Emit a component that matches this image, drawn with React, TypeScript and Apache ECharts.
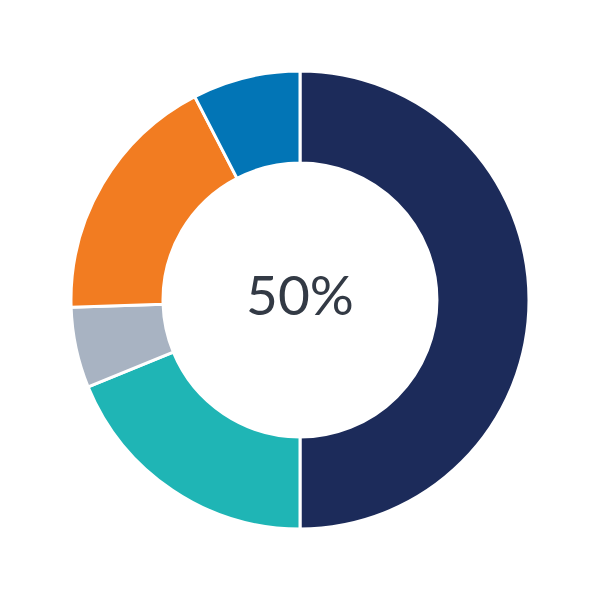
import React, { useEffect, useRef } from "react";
import * as echarts from "echarts";

const categories = ["Navy", "Teal", "Gray", "Orange", "Blue"];
const values = [50, 18.8, 5.7, 17.9, 7.6];
const colors = ["#1c2b5a", "#1fb5b5", "#a8b3c2", "#f27c21", "#0275b6"];
const centerLabel = "50%";

export default function App() {
  const ref = useRef<HTMLDivElement>(null);
  useEffect(() => {
    if (!ref.current) return;
    const chart = echarts.init(ref.current, undefined, { renderer: "svg" });
    chart.setOption({
      animation: false,
      backgroundColor: "#ffffff",
      graphic: [
        {
          type: "text",
          x: 300,
          y: 294,
          style: {
            text: centerLabel,
            align: "center",
            verticalAlign: "middle",
            fontFamily: "Lato",
            fontWeight: "normal",
            fontSize: 55,
            fill: "#333a45",
          },
        },
      ],
      series: [
        {
          type: "pie",
          center: [300, 300],
          radius: [137, 229],
          startAngle: 90,
          clockwise: true,
          label: { show: false },
          labelLine: { show: false },
          emphasis: { disabled: true },
          itemStyle: { borderColor: "#ffffff", borderWidth: 3 },
          data: categories.map((name, i) => ({
            name,
            value: values[i],
            itemStyle: { color: colors[i] },
          })),
        },
      ],
    });
    return () => chart.dispose();
  }, []);
  return (
    <div
      ref={ref}
      style={{ position: "fixed", left: 0, top: 0, width: 600, height: 600 }}
    />
  );
}
